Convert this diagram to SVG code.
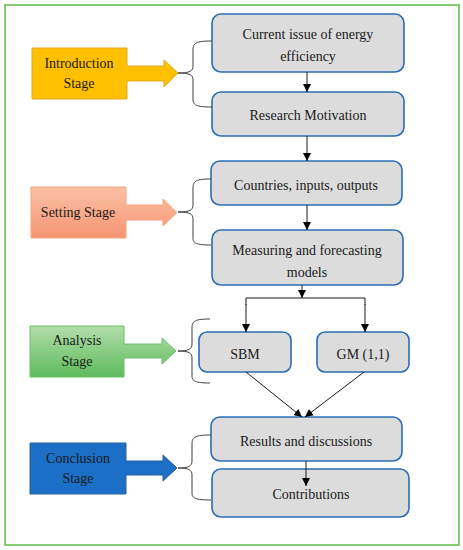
<svg xmlns="http://www.w3.org/2000/svg" width="463" height="550" viewBox="0 0 463 550">
<defs>
<style>
.box{fill:#DCDCDC;stroke:#2E6DB0;stroke-width:1.6}
.t{font-family:"Liberation Serif","DejaVu Serif",serif;font-size:14px;fill:#1a1a1a;text-anchor:middle}
.br{fill:none;stroke:#404040;stroke-width:1}
.ln{fill:none;stroke:#1a1a1a;stroke-width:1}
</style>
<marker id="ah" viewBox="0 0 10 10" refX="10" refY="5" markerWidth="8" markerHeight="8" markerUnits="userSpaceOnUse" orient="auto">
<path d="M0,0 L10,5 L0,10 Z" fill="#000"/>
</marker>
<linearGradient id="gSet" x1="0" y1="0" x2="0" y2="1">
<stop offset="0" stop-color="#FBC0A6"/><stop offset="1" stop-color="#F59572"/>
</linearGradient>
<linearGradient id="gAna" x1="0" y1="0" x2="0" y2="1">
<stop offset="0" stop-color="#B3DDAB"/><stop offset="1" stop-color="#5DBB5B"/>
</linearGradient>
</defs>
<rect x="5" y="5" width="454" height="540" fill="#fff" stroke="#5CBF4A" stroke-width="1.5"/>

<g id="introduction-stage">
<path d="M32,48 H127 V66 H164 V60 L178,73 L164,87 V81 H127 V99 H32 Z" fill="#FFC000" stroke="#E3A82A" stroke-width="1"/>
<text class="t" x="79" y="68">Introduction</text>
<text class="t" x="79" y="88">Stage</text>
</g>
<g id="setting-stage">
<path d="M31,187 H126 V205 H163 V199 L177,212.5 L163,226 V220 H126 V238 H31 Z" fill="url(#gSet)" stroke="#F4A67E" stroke-width="1"/>
<text class="t" x="78" y="217">Setting Stage</text>
</g>
<g id="analysis-stage">
<path d="M30,326 H124 V344 H162 V338 L176,351 L162,364 V358 H124 V377 H30 Z" fill="url(#gAna)" stroke="#6CC06A" stroke-width="1"/>
<text class="t" x="77" y="345">Analysis</text>
<text class="t" x="77" y="366">Stage</text>
</g>
<g id="conclusion-stage">
<path d="M30,443 H126 V461 H163 V455 L177,468 L163,481 V475 H126 V494 H30 Z" fill="#1C6FC6" stroke="#2A5E9E" stroke-width="1"/>
<text class="t" x="78" y="463">Conclusion</text>
<text class="t" x="78" y="483">Stage</text>
</g>

<g id="current-issue">
<rect class="box" x="212" y="14" width="192" height="58" rx="9"/>
<text class="t" x="308" y="39">Current issue of energy</text>
<text class="t" x="308" y="61">efficiency</text>
</g>
<g id="research-motivation">
<rect class="box" x="212" y="92" width="192" height="44" rx="9"/>
<text class="t" x="308" y="120">Research Motivation</text>
</g>
<g id="countries">
<rect class="box" x="211" y="161" width="191" height="44" rx="9"/>
<text class="t" x="306" y="190">Countries, inputs, outputs</text>
</g>
<g id="measuring">
<rect class="box" x="212" y="230" width="191" height="55" rx="9"/>
<text class="t" x="307" y="255">Measuring and forecasting</text>
<text class="t" x="307" y="277">models</text>
</g>
<g id="sbm">
<rect class="box" x="199" y="332" width="92" height="40" rx="8"/>
<text class="t" x="245" y="359">SBM</text>
</g>
<g id="gm">
<rect class="box" x="317" y="332" width="92" height="40" rx="8"/>
<text class="t" x="363" y="359">GM (1,1)</text>
</g>
<g id="results">
<rect class="box" x="211" y="417" width="191" height="44" rx="9"/>
<text class="t" x="306" y="446">Results and discussions</text>
</g>
<g id="contributions">
<rect class="box" x="212" y="469" width="197" height="48" rx="9"/>
<text class="t" x="311" y="499">Contributions</text>
</g>

<g id="connectors">
<line class="ln" x1="307" y1="72" x2="307" y2="92" marker-end="url(#ah)"/>
<line class="ln" x1="307" y1="136" x2="307" y2="161" marker-end="url(#ah)"/>
<line class="ln" x1="307" y1="205" x2="307" y2="230" marker-end="url(#ah)"/>
<line class="ln" x1="302" y1="285" x2="302" y2="298" marker-end="url(#ah)"/>
<path class="ln" d="M246,305 L246,298 L365,298 L365,305"/>
<line class="ln" x1="246" y1="304" x2="246" y2="332" marker-end="url(#ah)"/>
<line class="ln" x1="365" y1="304" x2="365" y2="332" marker-end="url(#ah)"/>
<line class="ln" x1="246" y1="372" x2="302" y2="417" marker-end="url(#ah)"/>
<line class="ln" x1="364" y1="372" x2="305" y2="417" marker-end="url(#ah)"/>
<line class="ln" x1="306" y1="461" x2="306" y2="486" marker-end="url(#ah)"/>
<path class="br" d="M212,41 C196,41 193,43 193,50 L193,66 C193,71 190,73 178,73 C190,73 193,75 193,80 L193,99 C193,105 196,107 212,107"/>
<path class="br" d="M211,179 C196,179 193,181 193,188 L193,205 C193,210 190,212 178,212 C190,212 193,214 193,219 L193,238 C193,243 196,245 211,245"/>
<path class="br" d="M210,319 C195,319 192,321 192,328 L192,344 C192,349 189,351 178,351 C189,351 192,353 192,358 L192,376 C192,381 195,383 210,383"/>
<path class="br" d="M211,435 C195,435 192,437 192,444 L192,461 C192,466 189,468 178,468 C189,468 192,470 192,475 L192,493 C192,498 195,500 211,500"/>
</g>
</svg>
